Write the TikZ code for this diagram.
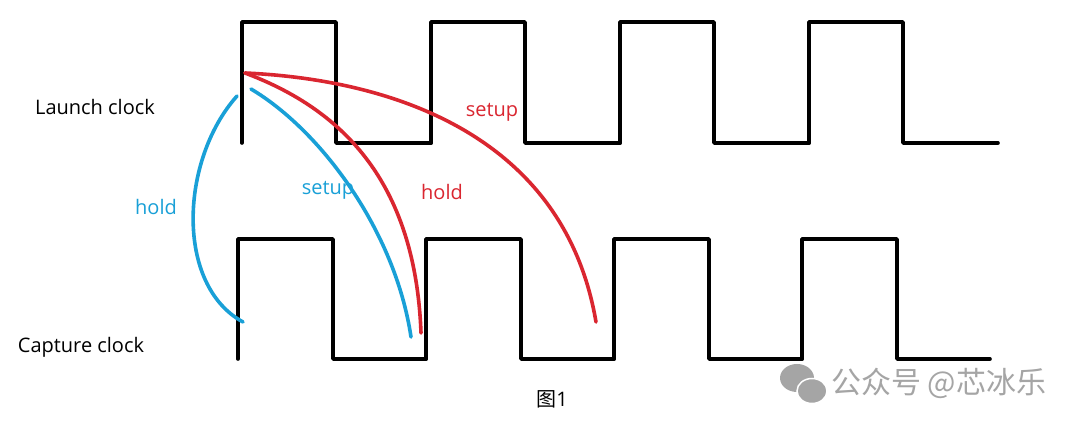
\documentclass[tikz,border=0pt]{standalone}
\usepackage{fontspec}
\setmainfont{Open Sans}
\newfontfamily\cjk{Noto Sans CJK SC}
\usetikzlibrary{calc}
\definecolor{penblue}{RGB}{25,160,215}
\definecolor{penred}{RGB}{218,38,48}
\definecolor{markgray}{RGB}{165,165,165}

\begin{document}
\begin{tikzpicture}[x=1pt,y=-1pt,
		wave/.style={line width=3.6pt,line cap=round,line join=round},
		blueline/.style={line width=3.6pt,line cap=round,penblue},
		redline/.style={line width=3.6pt,line cap=round,penred},
		txt/.style={inner sep=0pt,font=\fontsize{20}{24}\selectfont}]
		\useasboundingbox[fill=white] (0,0) rectangle (1080,430);
		\def\T{189}
		\def\H{121}
		\coordinate (launch) at (242,143);
		\coordinate (capture) at (238,359);

		\foreach \k in {0,...,3}
			\draw[wave] ($(launch)+(\k*\T,0)$) -- ++(0,-\H) -- ++(94,0) -- ++(0,\H) -- ++(95,0);
		\foreach \k in {0,...,3}
			\draw[wave] ($(capture)+(\k*188,0)$) -- ++(0,-120) -- ++(95,0) -- ++(0,120) -- ++(93,0);

		\node[txt] (launchname) at (95,107) {Launch clock};
		\node[txt] (capturename) at (81,347) {Capture clock};

		\coordinate (redsrc) at (245,73);
		\coordinate (bluesrc) at (251,89);
		\coordinate (holdsrc) at (237,96);
		\coordinate (redsetup) at (596,322);
		\coordinate (redhold) at (421,333);
		\coordinate (bluesetup) at (411,337);
		\coordinate (bluehold) at (243,322);

		\draw[redline] (redsrc) .. controls (400,80) and (565,140) .. (redsetup);
		\draw[redline] (redsrc) .. controls (330,105) and (415,170) .. (redhold);
		\draw[blueline] (bluesrc) .. controls (320,130) and (395,230) .. (bluesetup);
		\draw[blueline] (holdsrc) .. controls (180,160) and (175,285) .. (bluehold);

		\node[txt,text=penblue] (bholdtxt) at (156,207) {hold};
		\node[txt,text=penblue] (bsetuptxt) at (328,190) {setup};
		\node[txt,text=penred] (rholdtxt) at (442,192) {hold};
		\node[txt,text=penred] (rsetuptxt) at (492,112) {setup};

		\node[txt] (caption) at (552,399) {{\cjk 图}1};

		\fill[markgray] (797,378) ellipse [x radius=17,y radius=14];
		\fill[markgray,draw=white,line width=1.5pt] (812,391) ellipse [x radius=15,y radius=12.5];
		\node[inner sep=0pt,text=markgray,font=\cjk\fontsize{30}{34}\selectfont,anchor=west] (mark) at (831,383) {公众号 @芯冰乐};
	\end{tikzpicture}
\end{document}
